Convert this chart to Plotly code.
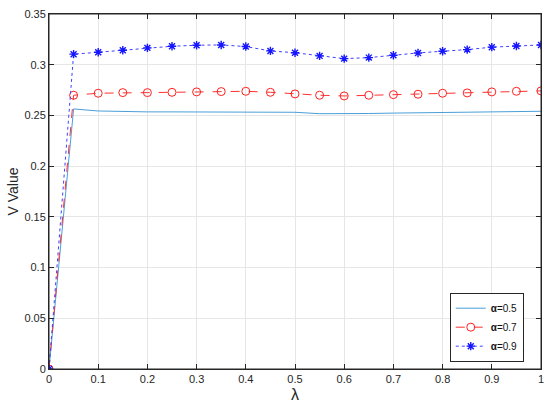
import plotly.graph_objects as go

lam = [0, 0.05, 0.1, 0.15, 0.2, 0.25, 0.3, 0.35, 0.4, 0.45, 0.5,
       0.55, 0.6, 0.65, 0.7, 0.75, 0.8, 0.85, 0.9, 0.95, 1.0]

v_a05 = [0, 0.2564, 0.2544, 0.2538, 0.2535, 0.2535, 0.2535, 0.2535, 0.2535, 0.2533, 0.2531,
         0.2517, 0.2515, 0.2519, 0.2523, 0.2527, 0.2530, 0.2532, 0.2535, 0.2538, 0.2541]
v_a07 = [0, 0.2699, 0.2719, 0.2725, 0.2725, 0.2728, 0.2732, 0.2735, 0.2738, 0.2728, 0.2712,
         0.2699, 0.2692, 0.2699, 0.2705, 0.2709, 0.2719, 0.2722, 0.2732, 0.2738, 0.2742]
v_a09 = [0, 0.3104, 0.3123, 0.3143, 0.3166, 0.3182, 0.3192, 0.3195, 0.3179, 0.3136, 0.3118,
         0.3087, 0.3060, 0.3070, 0.3094, 0.3116, 0.3133, 0.3149, 0.3173, 0.3185, 0.3195]

x_ticks = [0, 0.1, 0.2, 0.3, 0.4, 0.5, 0.6, 0.7, 0.8, 0.9, 1]
y_ticks = [0, 0.05, 0.1, 0.15, 0.2, 0.25, 0.3, 0.35]

fig = go.Figure()
fig.add_trace(go.Scatter(x=lam, y=v_a05, mode="lines", name="<b>α</b>=0.5",
                         line={"color": "#4a9fd8", "width": 1}))
fig.add_trace(go.Scatter(x=lam, y=v_a07, mode="lines+markers", name="<b>α</b>=0.7",
                         line={"color": "#ff3030", "width": 1, "dash": "dash"},
                         marker={"symbol": "circle-open", "size": 8, "color": "#ff2020",
                                 "line": {"width": 1}}))
fig.add_trace(go.Scatter(x=lam, y=v_a09, mode="lines+markers", name="<b>α</b>=0.9",
                         line={"color": "#4040ff", "width": 1, "dash": "dot"},
                         marker={"symbol": "asterisk-open", "size": 7, "color": "#1515ff",
                                 "line": {"width": 1.4, "color": "#1515ff"}}))

axis_common = dict(showline=True, linecolor="#262626", linewidth=1, mirror="ticks",
                   ticks="inside", ticklen=5, tickcolor="#262626", automargin=False,
                   showgrid=True, gridcolor="#e6e6e6", gridwidth=1, zeroline=False,
                   tickfont={"family": "Liberation Sans, Arial", "size": 11, "color": "#262626"})

fig.update_layout(
    width=550, height=410,
    margin={"l": 49, "r": 9, "t": 14, "b": 41},
    plot_bgcolor="white", paper_bgcolor="white",
    font={"family": "Liberation Sans, Arial", "color": "#262626"},
    xaxis=dict(axis_common, range=[0, 1], tickvals=x_ticks,
               ticktext=[str(t) for t in x_ticks],
               title={"text": "λ", "font": {"size": 16}, "standoff": 4}),
    yaxis=dict(axis_common, range=[0, 0.35], tickvals=y_ticks,
               ticktext=[str(t) for t in y_ticks],
               title={"text": "V Value", "font": {"size": 14}, "standoff": 2}),
    legend={"x": 0.965, "y": 0.215, "xanchor": "right", "yanchor": "top",
            "bgcolor": "white", "bordercolor": "#262626", "borderwidth": 1,
            "font": {"size": 10, "color": "#111111"}, "itemwidth": 30,
            "tracegroupgap": 0},
)
# box round the plot area, as in the original
fig.add_shape(type="rect", xref="paper", yref="paper", x0=0, y0=0, x1=1, y1=1,
              line={"color": "#262626", "width": 1}, layer="above")

# drop the default body margin so the 550x410 figure fills the window exactly
fig.write_html("out.html", config={"displayModeBar": False},
               post_script="document.body.style.margin='0';document.body.style.overflow='hidden';")
